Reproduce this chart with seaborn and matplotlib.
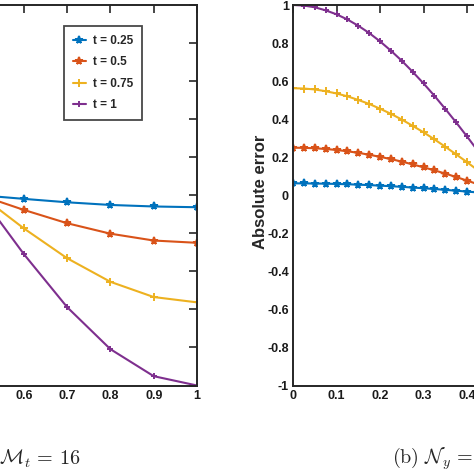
import matplotlib
matplotlib.use("Agg")
import matplotlib.pyplot as plt
import seaborn as sns
import pandas as pd

# ---- data ----
t_labels = ["t = 0.25", "t = 0.5", "t = 0.75", "t = 1"]

# left panel (coarse grid), visible part x = 0.5 .. 1
x_left = [0.5, 0.6, 0.7, 0.8, 0.9, 1.0]
left_t025 = [0.0, -0.019, -0.037, -0.051, -0.059, -0.063]
left_t05 = [0.0, -0.077, -0.147, -0.202, -0.238, -0.250]
left_t075 = [0.0, -0.174, -0.331, -0.455, -0.535, -0.563]
left_t1 = [0.0, -0.309, -0.588, -0.809, -0.951, -1.000]

# right panel (fine grid), visible part x = 0 .. 0.45
x_right = [0.0, 0.025, 0.05, 0.075, 0.1, 0.125, 0.15, 0.175, 0.2, 0.225,
           0.25, 0.275, 0.3, 0.325, 0.35, 0.375, 0.4, 0.425, 0.45]
right_t025 = [0.0625, 0.0623, 0.0617, 0.0608, 0.0594, 0.0577, 0.0557, 0.0533,
              0.0506, 0.0475, 0.0442, 0.0406, 0.0367, 0.0327, 0.0284, 0.0239,
              0.0193, 0.0146, 0.0098]
right_t05 = [0.250, 0.249, 0.247, 0.243, 0.238, 0.231, 0.223, 0.213, 0.202,
             0.190, 0.177, 0.162, 0.147, 0.131, 0.114, 0.096, 0.077, 0.058, 0.039]
right_t075 = [0.5625, 0.561, 0.556, 0.547, 0.535, 0.520, 0.501, 0.480, 0.455,
              0.428, 0.398, 0.365, 0.331, 0.294, 0.255, 0.215, 0.174, 0.131, 0.088]
right_t1 = [1.000, 0.997, 0.988, 0.972, 0.951, 0.924, 0.891, 0.853, 0.809,
            0.760, 0.707, 0.649, 0.588, 0.523, 0.454, 0.383, 0.309, 0.233, 0.156]

x_ticks = [0, 0.1, 0.2, 0.3, 0.4, 0.5, 0.6, 0.7, 0.8, 0.9, 1]
left_xticklabels = ["", "", "", "", "", "", "0.6", "0.7", "0.8", "0.9", "1"]
right_xticklabels = ["0", "0.1", "0.2", "0.3", "0.4", "", "", "", "", "", ""]
y_ticks = [-1, -0.8, -0.6, -0.4, -0.2, 0, 0.2, 0.4, 0.6, 0.8, 1]
y_ticklabels = ["-1", "-0.8", "-0.6", "-0.4", "-0.2", "0", "0.2", "0.4", "0.6", "0.8", "1"]

colors = ["#0072BD", "#D95319", "#EDB120", "#7E2F8E"]
markers = ["*", "*", "+", "+"]
msizes = [5.5, 5.5, 6, 4]


def long_df(x, series):
    rows = []
    for lab, ys in zip(t_labels, series):
        for xi, yi in zip(x, ys):
            rows.append({"x": xi, "y": yi, "t": lab})
    return pd.DataFrame(rows)


df_left = long_df(x_left, [left_t025, left_t05, left_t075, left_t1])
df_right = long_df(x_right, [right_t025, right_t05, right_t075, right_t1])

sns.set_theme(style="white")
plt.rcParams["font.family"] = ["Liberation Sans Narrow", "Liberation Sans", "DejaVu Sans"]
plt.rcParams["mathtext.fontset"] = "cm"

W = 474.0
fig = plt.figure(figsize=(4.74, 4.74), dpi=100)
fig.patch.set_facecolor("white")

bottom = (W - 385.5) / W
height = 380.5 / W
ax_l = fig.add_axes([-236 / W, bottom, 433 / W, height])
ax_r = fig.add_axes([293 / W, bottom, 435 / W, height])

spine_c = "#262626"
for ax, df, xtl in ((ax_l, df_left, left_xticklabels), (ax_r, df_right, right_xticklabels)):
    for i, lab in enumerate(t_labels):
        sub = df[df["t"] == lab]
        sns.lineplot(data=sub, x="x", y="y", ax=ax, color=colors[i],
                     marker=markers[i], markersize=msizes[i],
                     markeredgewidth=1.4, markeredgecolor=colors[i],
                     linewidth=1.5, label=lab, legend=False)
    ax.set_xlim(0, 1)
    ax.set_ylim(-1, 1)
    ax.set_xticks(x_ticks)
    ax.set_xticklabels(xtl)
    ax.set_yticks(y_ticks)
    ax.set_yticklabels(y_ticklabels)
    ax.tick_params(direction="in", length=6, width=1.2, color=spine_c,
                   top=True, right=True, labelsize=9, pad=3,
                   labelcolor="#1a1a1a")
    for lbl in ax.get_xticklabels() + ax.get_yticklabels():
        lbl.set_fontweight("bold")
    for sp in ax.spines.values():
        sp.set_visible(True)
        sp.set_color(spine_c)
        sp.set_linewidth(1.4)
    ax.set_xlabel("")
    ax.set_ylabel("")
    ax.grid(False)
    ax.set_facecolor("white")

ax_l.tick_params(labelleft=False)

ax_r.set_ylabel("Absolute error", fontweight="bold", fontsize=12,
                family=["Liberation Sans", "DejaVu Sans"])
ax_r.yaxis.set_label_coords(-0.058, 0.51)

handles, labels = ax_l.get_legend_handles_labels()
leg = ax_l.legend(handles, labels, loc="upper left",
                  bbox_to_anchor=(64 / W, 1 - 26 / W), bbox_transform=fig.transFigure,
                  fontsize=8.5, frameon=True, fancybox=False, edgecolor="#1a1a1a",
                  handlelength=1.1, handletextpad=0.6, labelspacing=0.8,
                  borderpad=0.75, borderaxespad=0)
leg.get_frame().set_linewidth(1.3)
for txt in leg.get_texts():
    txt.set_fontweight("bold")

fig.text(80 / W, 1 - 459 / W, r"$\mathcal{M}_t\,=\,16$", ha="right", va="center",
         fontsize=14.5)
fig.text(392 / W, 1 - 459 / W, r"$\mathrm{(b)}\ \mathcal{N}_y\,=$", ha="left", va="center",
         fontsize=14.5)

fig.savefig("out.png", dpi=100, facecolor="white")
